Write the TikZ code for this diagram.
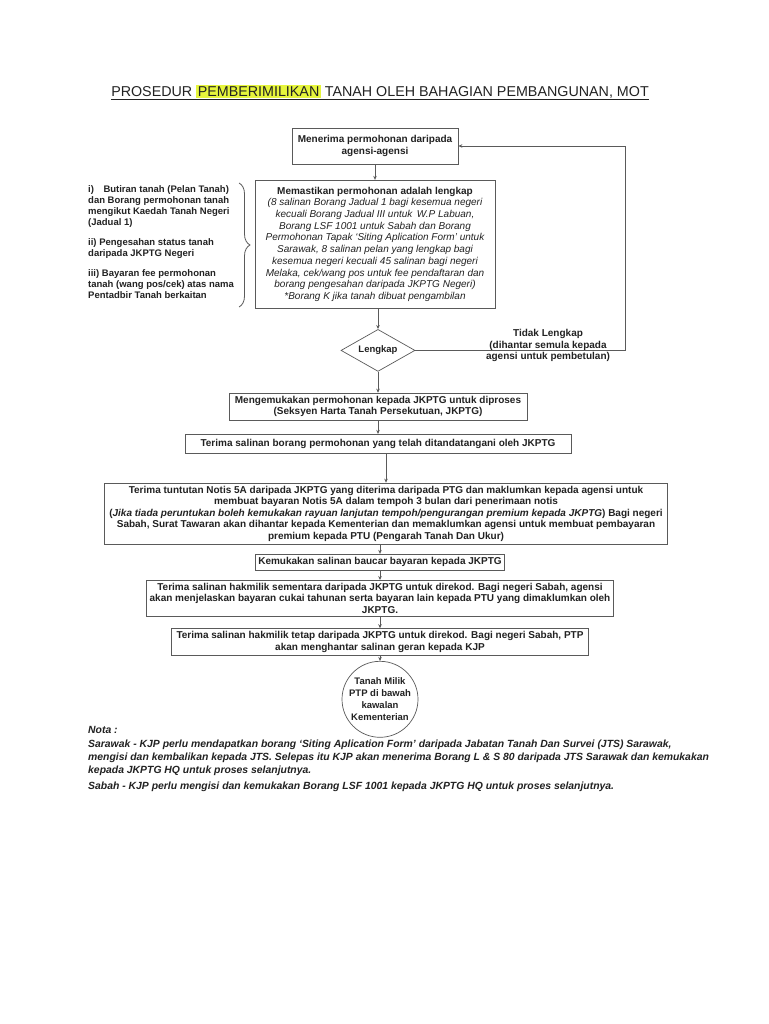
\documentclass[tikz,border=0pt]{standalone}
\usepackage{fontspec}
\setmainfont{Liberation Sans}
\usetikzlibrary{shapes.geometric, arrows.meta, positioning, decorations.pathreplacing}
\definecolor{ink}{HTML}{222222}
\definecolor{rule}{HTML}{5A5A5A}
\definecolor{marker}{HTML}{E6F53C}

\begin{document}
\begin{tikzpicture}[x=1pt, y=-1pt,
    process/.style={rectangle, draw=rule, line width=0.7pt, align=center, text=ink, inner xsep=3pt, inner ysep=1.5pt, font=\fontsize{10}{11.5}\selectfont\bfseries},
    decision/.style={diamond, draw=rule, line width=0.7pt, aspect=1.5, inner sep=0pt, minimum width=74pt, minimum height=42pt, align=center, text=ink, font=\fontsize{9.5}{11}\selectfont\bfseries},
    startstop/.style={circle, draw=rule, line width=0.7pt, minimum size=76pt, inner sep=0pt, align=center, text=ink, font=\fontsize{9.5}{12}\selectfont\bfseries},
    note/.style={align=left, text=ink, inner sep=0pt, font=\fontsize{9.5}{11}\selectfont\bfseries},
    arrow/.style={-{Stealth[length=4pt, width=3.5pt]}, draw=rule, line width=0.7pt}
]
\useasboundingbox (0,0) rectangle (768,1024);
\fill[white] (0,0) rectangle (768,1024);

% Title
\node[anchor=base, inner sep=0pt, text=ink, font=\fontsize{14.3}{16}\selectfont] (title) at (380,96.5)
    {PROSEDUR {\setlength\fboxsep{1.5pt}\colorbox{marker}{PEMBERIMILIKAN}} TANAH OLEH BAHAGIAN PEMBANGUNAN, MOT};
\draw[ink, line width=0.8pt] ([yshift=-3pt]title.base west) -- ([yshift=-3pt]title.base east);

% Main column
\node[process, minimum width=166pt, minimum height=36pt] (recv) at (375,146) {Menerima permohonan daripada\\agensi-agensi};
\node[process, below=15.5pt of recv, minimum width=240pt, minimum height=128pt, font=\fontsize{10}{11.7}\selectfont\itshape] (check)
    {{\bfseries\upshape Memastikan permohonan adalah lengkap}\\
     (8 salinan Borang Jadual 1 bagi kesemua negeri\\
     kecuali Borang Jadual III untuk\, W.P Labuan,\\
     Borang LSF 1001 untuk Sabah dan Borang\\
     Permohonan Tapak ‘Siting Aplication Form’ untuk\\
     Sarawak, 8 salinan pelan yang lengkap bagi\\
     kesemua negeri kecuali 45 salinan bagi negeri\\
     Melaka, cek/wang pos untuk fee pendaftaran dan\\
     borang pengesahan daripada JKPTG Negeri)\\
     *Borang K jika tanah dibuat pengambilan};
\node[decision, below=20.5pt of check, xshift=3pt] (lengkap) {Lengkap};
\node[process, below=21pt of lengkap, minimum width=298pt, minimum height=27pt] (submit)
    {Mengemukakan permohonan kepada JKPTG untuk diproses\\(Seksyen Harta Tanah Persekutuan, JKPTG)};
\node[process, below=13.5pt of submit, minimum width=386pt, minimum height=19pt] (signed)
    {Terima salinan borang permohonan yang telah ditandatangani oleh JKPTG};
\node[process, below=29pt of signed, xshift=8pt, minimum width=563pt, minimum height=61pt, inner xsep=1pt] (notice)
    {Terima tuntutan Notis 5A daripada JKPTG yang diterima daripada PTG dan maklumkan kepada agensi untuk\\
     membuat bayaran Notis 5A dalam tempoh 3 bulan dari penerimaan notis\\
     (\textit{Jika tiada peruntukan boleh kemukakan rayuan lanjutan tempoh/pengurangan premium kepada JKPTG}) Bagi negeri\\
     Sabah, Surat Tawaran akan dihantar kepada Kementerian dan memaklumkan agensi untuk membuat pembayaran\\
     premium kepada PTU (Pengarah Tanah Dan Ukur)};
\node[process, below=9.5pt of notice, xshift=-6pt, minimum width=247pt, minimum height=16pt] (voucher)
    {Kemukakan salinan baucar bayaran kepada JKPTG};
\node[process, below=9.5pt of voucher, minimum width=466pt, minimum height=36pt] (temptitle)
    {Terima salinan hakmilik sementara daripada JKPTG untuk direkod. Bagi negeri Sabah, agensi\\
     akan menjelaskan bayaran cukai tahunan serta bayaran lain kepada PTU yang dimaklumkan oleh\\
     JKPTG.};
\node[process, below=11.5pt of temptitle, minimum width=417pt, minimum height=27pt] (finaltitle)
    {Terima salinan hakmilik tetap daripada JKPTG untuk direkod. Bagi negeri Sabah, PTP\\
     akan menghantar salinan geran kepada KJP};
\node[startstop, below=5pt of finaltitle] (owned) {Tanah Milik\\PTP di bawah\\kawalan\\Kementerian};

% Side notes
\node[note, anchor=north west] (reqs) at (88,185)
    {i)\quad Butiran tanah (Pelan Tanah)\\
     dan Borang permohonan tanah\\
     mengikut Kaedah Tanah Negeri\\
     (Jadual 1)\\[9pt]
     ii) Pengesahan status tanah\\
     daripada JKPTG Negeri\\[9pt]
     iii) Bayaran fee permohonan\\
     tanah (wang pos/cek) atas nama\\
     Pentadbir Tanah berkaitan};
\draw[rule, line width=0.8pt, decorate, decoration={brace, amplitude=11pt}] (239,183) -- (239,307);

\node[note, align=center, font=\fontsize{10}{11.5}\selectfont\bfseries] (redo) at (548,345.5) {Tidak Lengkap\\(dihantar semula kepada\\agensi untuk pembetulan)};

% Arrows
\foreach \a/\b in {recv/check, check/lengkap, lengkap/submit, submit/signed, signed/notice, notice/voucher, voucher/temptitle, temptitle/finaltitle, finaltitle/owned}
    \draw[arrow] (\a.south -| \b.north) -- (\b.north);
\coordinate (back) at (625,0);
\draw[arrow] (lengkap.east) -- (lengkap.east -| back) |- (recv.east);

% Nota
\node[note, anchor=north west, font=\fontsize{10.4}{13}\selectfont\bfseries\itshape] (nota) at (88,726) {Nota :};
\node[note, anchor=north west, font=\fontsize{10.4}{13}\selectfont\bfseries\itshape] (remarks) at (88,740)
    {Sarawak - KJP perlu mendapatkan borang ‘Siting Aplication Form’ daripada Jabatan Tanah Dan Survei (JTS) Sarawak,\\
     mengisi dan kembalikan kepada JTS. Selepas itu KJP akan menerima Borang L \& S 80 daripada JTS Sarawak dan kemukakan\\
     kepada JKPTG HQ untuk proses selanjutnya.\\[3pt]
     Sabah - KJP perlu mengisi dan kemukakan Borang LSF 1001 kepada JKPTG HQ untuk proses selanjutnya.};

\end{tikzpicture}
\end{document}
